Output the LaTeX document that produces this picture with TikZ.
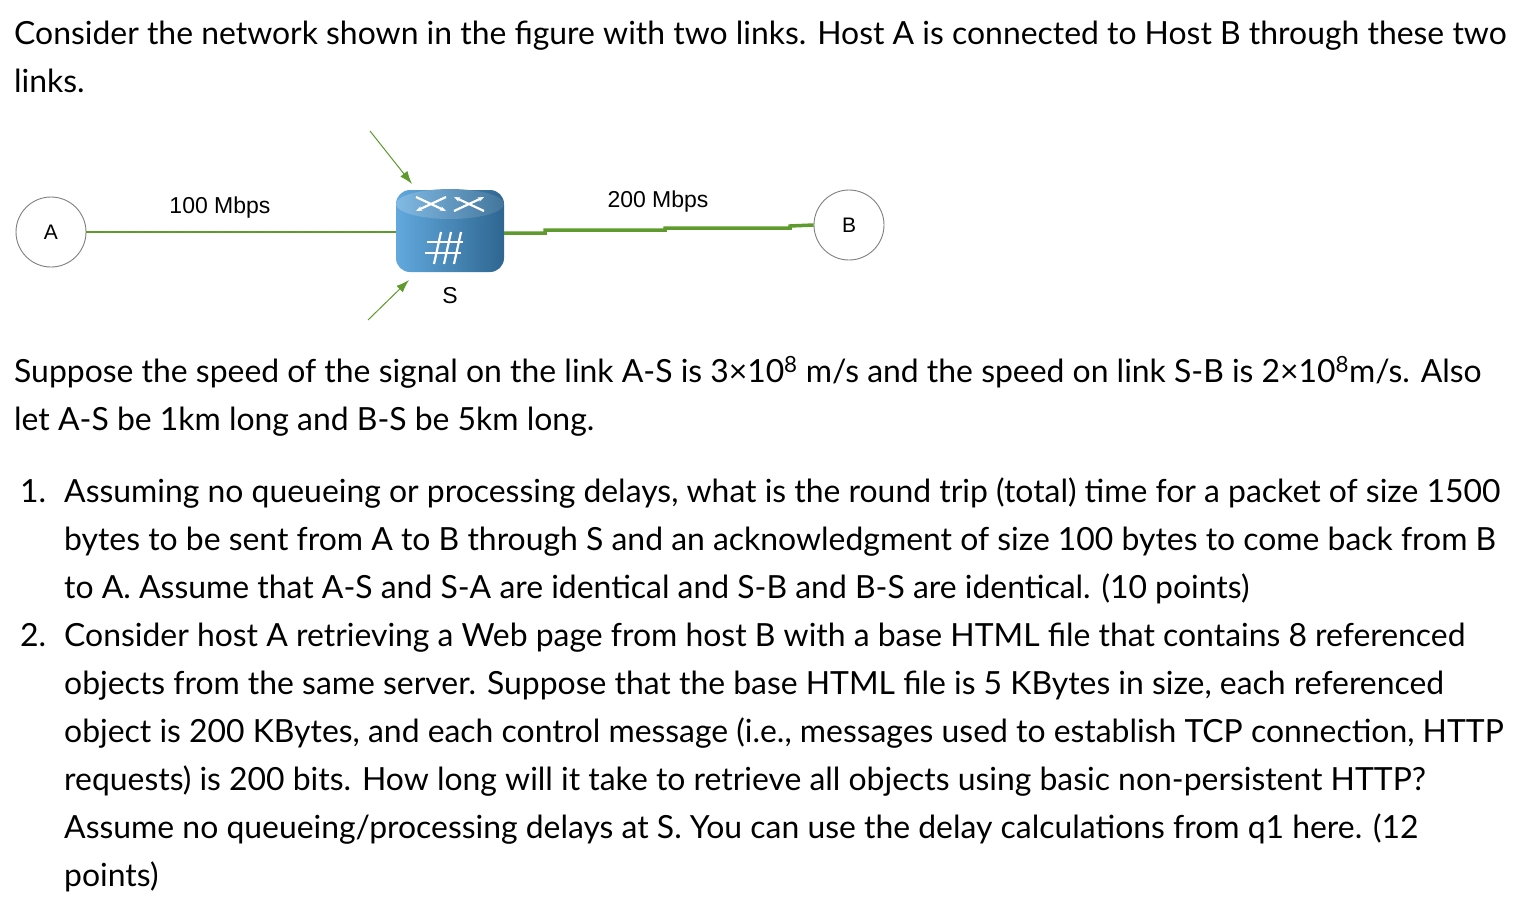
\documentclass[tikz,border=0pt]{standalone}
\usepackage{fontspec}
\setmainfont{Lato}
\newfontfamily\diagfont{Liberation Sans}
\usetikzlibrary{arrows.meta}
\definecolor{lnk}{HTML}{5E9A2C}
\definecolor{rlight}{HTML}{62A9DE}
\definecolor{rdark}{HTML}{2E6690}
\tikzset{
  txt/.style={anchor=base west, inner sep=0pt, font=\fontsize{31.9}{36}\selectfont},
  host/.style={circle, draw=gray, line width=0.9pt, minimum size=70pt, inner sep=0pt, font=\diagfont\fontsize{21}{24}\selectfont},
  lbl/.style={font=\diagfont\fontsize{23}{26}\selectfont, inner sep=0pt},
  ptr/.style={draw=lnk, line width=1pt, -{Latex[length=13pt,width=9pt]}},
}
\begin{document}
\begin{tikzpicture}[x=1pt,y=-1pt]
\useasboundingbox (0,0) rectangle (1526,898);
\fill[white] (0,0) rectangle (1526,898);
\node[txt] (l1) at (14,44) {Consider the network shown in the figure with two links. Host A is connected to Host B through these two};
\node[txt] (l2) at (14,92) {links.};
\node[txt] (l3) at (14,382) {Suppose the speed of the signal on the link A-S is 3×10\textsuperscript{8} m/s and the speed on link S-B is 2×10\textsuperscript{8}m/s. Also};
\node[txt] (l4) at (14,430) {let A-S be 1km long and B-S be 5km long.};
\node[txt] (n1) at (20,502) {1.};
\node[txt] (i1a) at (64,502) {Assuming no queueing or processing delays, what is the round trip (total) time for a packet of size 1500};
\node[txt] (i1b) at (64,550) {bytes to be sent from A to B through S and an acknowledgment of size 100 bytes to come back from B};
\node[txt] (i1c) at (64,598) {to A. Assume that A-S and S-A are identical and S-B and B-S are identical. (10 points)};
\node[txt] (n2) at (20,646) {2.};
\node[txt] (i2a) at (64,646) {Consider host A retrieving a Web page from host B with a base HTML file that contains 8 referenced};
\node[txt] (i2b) at (64,694) {objects from the same server. Suppose that the base HTML file is 5 KBytes in size, each referenced};
\node[txt] (i2c) at (64,742) {object is 200 KBytes, and each control message (i.e., messages used to establish TCP connection, HTTP};
\node[txt] (i2d) at (64,790) {requests) is 200 bits. How long will it take to retrieve all objects using basic non-persistent HTTP?};
\node[txt] (i2e) at (64,838) {Assume no queueing/processing delays at S. You can use the delay calculations from q1 here. (12};
\node[txt] (i2f) at (64,886) {points)};
% diagram
\node[host] (A) at (51,232) {A};
\node[host] (B) at (849,225) {B};
\shade[left color=rlight, right color=rdark, rounded corners=14pt] (396,190) rectangle (504,272);
\shade[left color=rlight!80!white, right color=rdark!90!white] (450,204) ellipse (54pt and 15pt);
\node[minimum width=108pt, minimum height=82pt, inner sep=0pt] (S) at (450,231) {};
\begin{scope}[white, line width=2.2pt]
  \draw[-{Stealth[length=6pt]}] (416,197) -- (446,211);
  \draw[-{Stealth[length=6pt]}] (446,197) -- (416,211);
  \draw[-{Stealth[length=6pt]}] (484,211) -- (454,197);
  \draw[-{Stealth[length=6pt]}] (454,211) -- (484,197);
  \draw (441,232) -- (434,264) (451,232) -- (444,264) (461,232) -- (454,264);
  \draw (427,242) -- (463,242) (425,253) -- (461,253);
\end{scope}
\node[lbl] at (450,296) {S};
\draw[lnk, line width=1.2pt] (A) -- (S.west |- A);
\coordinate (s1) at (545,233);
\coordinate (s2) at (665,230);
\coordinate (s3) at (790,228);
\draw[lnk, line width=3.5pt] (504,233) -- (s1) -- (545,230) -- (s2) -- (665,228) -- (s3) -- (790,226) -- (B.west);
\node[lbl] at (220,208) {100 Mbps};
\node[lbl] at (658,202) {200 Mbps};
\coordinate (p1) at (370,131);
\coordinate (p2) at (368,320);
\draw[ptr] (p1) -- (412,184);
\draw[ptr] (p2) -- (409,280);
\end{tikzpicture}
\end{document}
